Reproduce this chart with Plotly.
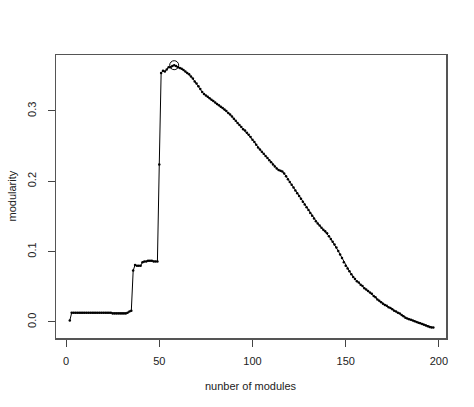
import plotly.graph_objects as go

n_modules = list(range(2, 198))
modularity = [
    0.002,  # 2
    0.013, 0.013, 0.013, 0.013, 0.013, 0.013, 0.013, 0.013, 0.013, 0.013,  # 3-12
    0.013, 0.013, 0.013, 0.013, 0.013, 0.013, 0.013, 0.013, 0.013, 0.013,  # 13-22
    0.013, 0.013, 0.012, 0.012, 0.012, 0.012, 0.012, 0.012, 0.012, 0.012,  # 23-32
    0.013, 0.015, 0.016, 0.073, 0.081, 0.080, 0.080, 0.080, 0.085, 0.086,  # 33-42
    0.086, 0.087, 0.087, 0.087, 0.086, 0.086, 0.086, 0.224, 0.354, 0.357,  # 43-52
    0.356, 0.359, 0.362, 0.362, 0.364, 0.365, 0.364, 0.362, 0.361, 0.360,  # 53-62
    0.358, 0.356, 0.354, 0.352, 0.349, 0.346, 0.342, 0.339, 0.335, 0.331,  # 63-72
    0.327, 0.324, 0.322, 0.320, 0.318, 0.316, 0.314, 0.312, 0.310, 0.308,  # 73-82
    0.306, 0.304, 0.302, 0.300, 0.297, 0.295, 0.292, 0.289, 0.286, 0.283,  # 83-92
    0.280, 0.277, 0.274, 0.272, 0.269, 0.266, 0.263, 0.259, 0.256, 0.252,  # 93-102
    0.248, 0.245, 0.242, 0.239, 0.236, 0.233, 0.230, 0.227, 0.224, 0.221,  # 103-112
    0.218, 0.216, 0.215, 0.214, 0.211, 0.207, 0.203, 0.199, 0.195, 0.191,  # 113-122
    0.187, 0.183, 0.179, 0.175, 0.171, 0.167, 0.163, 0.159, 0.155, 0.151,  # 123-132
    0.147, 0.143, 0.140, 0.137, 0.134, 0.131, 0.129, 0.126, 0.122, 0.118,  # 133-142
    0.114, 0.110, 0.106, 0.101, 0.096, 0.091, 0.085, 0.080, 0.076, 0.072,  # 143-152
    0.068, 0.064, 0.061, 0.058, 0.056, 0.053, 0.051, 0.048, 0.046, 0.044,  # 153-162
    0.042, 0.040, 0.037, 0.035, 0.032, 0.030, 0.028, 0.026, 0.024, 0.023,  # 163-172
    0.021, 0.020, 0.018, 0.016, 0.015, 0.013, 0.012, 0.010, 0.008, 0.006,  # 173-182
    0.005, 0.004, 0.003, 0.002, 0.001, 0.000, -0.001, -0.002, -0.003, -0.004,  # 183-192
    -0.005, -0.006, -0.007, -0.008, -0.008,  # 193-197
]

x_ticks = [0, 50, 100, 150, 200]
y_ticks = [0.0, 0.1, 0.2, 0.3]
y_tick_labels = ["0.0", "0.1", "0.2", "0.3"]

best_i = max(range(len(modularity)), key=lambda i: modularity[i])
best_x = [n_modules[best_i]]
best_y = [modularity[best_i]]

FONT = "Liberation Sans, Arial, sans-serif"

fig = go.Figure()
fig.add_trace(go.Scatter(
    x=n_modules, y=modularity, mode="lines+markers",
    line=dict(color="black", width=1),
    marker=dict(color="black", size=2.5),
    showlegend=False, hoverinfo="skip",
))
fig.add_trace(go.Scatter(
    x=best_x, y=best_y, mode="markers",
    marker=dict(symbol="circle-open", size=9, color="black", line=dict(width=1)),
    showlegend=False, hoverinfo="skip",
))

fig.update_layout(
    width=474, height=407,
    margin=dict(l=56, r=28, t=55, b=69),
    paper_bgcolor="white", plot_bgcolor="white",
    font=dict(family=FONT, size=11, color="black"),
    xaxis=dict(
        range=[-5.4, 203.8], tickvals=x_ticks, ticks="outside", ticklen=7,
        tickcolor="#444", showgrid=False, zeroline=False, automargin=False,
        showline=True, mirror=True, linecolor="#555", linewidth=1.5,
        tickfont=dict(size=11, color="#222"), ticklabelstandoff=5,
    ),
    yaxis=dict(
        range=[-0.0228, 0.3795], tickvals=y_ticks, ticktext=y_tick_labels,
        ticks="outside", ticklen=7, tickangle=-90, automargin=False,
        tickcolor="#444", showgrid=False, zeroline=False,
        showline=True, mirror=True, linecolor="#555", linewidth=1.5,
        tickfont=dict(size=11, color="#222"), ticklabelstandoff=7,
    ),
    annotations=[
        dict(text="nunber of modules", xref="paper", yref="paper", x=0.5, y=0,
             yshift=-48, showarrow=False, font=dict(size=11, color="#222"),
             xanchor="center", yanchor="middle"),
        dict(text="modularity", xref="paper", yref="paper", x=0, y=0.5,
             xshift=-45, showarrow=False, textangle=-90,
             font=dict(size=11, color="#222"), xanchor="center", yanchor="middle"),
    ],
)

fig.write_html(
    "out.html",
    config={"displayModeBar": False, "staticPlot": True},
    post_script="document.body.style.margin='0px';document.body.style.overflow='hidden';",
)
